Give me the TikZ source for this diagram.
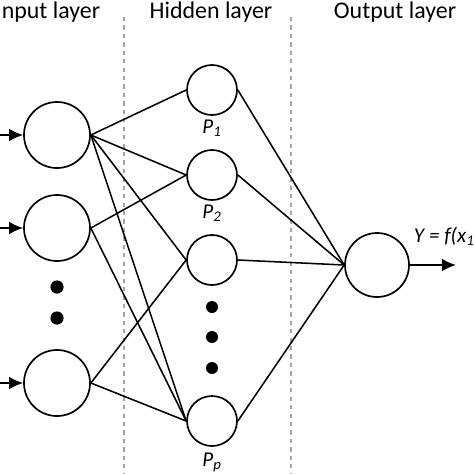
\documentclass[tikz,border=0pt]{standalone}
\usepackage{fontspec}
\setmainfont{Carlito}
\usetikzlibrary{arrows.meta}
\colorlet{neuron edge}{black}
\colorlet{layer line}{gray!70}
\tikzset{neuron/.style={circle, draw=neuron edge, line width=1.2pt, inner sep=0pt},
    bignode/.style={neuron, minimum size=1.65cm},
    smallnode/.style={neuron, minimum size=1.25cm},
    dotnode/.style={circle, fill=black, inner sep=0pt, minimum size=0.33cm},
    link/.style={line width=1.1pt},
    inarrow/.style={line width=1.2pt, -{Latex[length=10pt, width=9pt]}},
    title/.style={font=\fontsize{17}{20}\selectfont},
    plabel/.style={font=\fontsize{15}{18}\selectfont\itshape}}

\begin{document}
\begin{tikzpicture}[x=0.025cm, y=-0.025cm]
    \useasboundingbox (0,0) rectangle (474,474);
    % layer borders
    \draw[layer line, dashed, line width=0.8pt] (124,17) -- (124,474);
    \draw[layer line, dashed, line width=0.8pt] (291,17) -- (291,474);
    \node[title] (tin)  at (48,12)  {Input layer};
    \node[title] (thid) at (211,12) {Hidden layer};
    \node[title] (tout) at (395,12) {Output layer};
    % input layer
    \node[bignode] (in1) at (57,135) {};
    \node[bignode] (in2) at (57,228) {};
    \node[bignode] (in3) at (57,383) {};
    \node[dotnode] (id1) at (57,287) {};
    \node[dotnode] (id2) at (57,318) {};
    \coordinate (x1) at (0,135);
    \coordinate (x2) at (0,228);
    \coordinate (x3) at (0,383);
    \draw[inarrow] (x1) -- (in1.west);
    \draw[inarrow] (x2) -- (in2.west);
    \draw[inarrow] (x3) -- (in3.west);
    % hidden layer
    \node[smallnode] (h1) at (212,90)  {};
    \node[smallnode] (h2) at (212,175) {};
    \node[smallnode] (h3) at (212,260) {};
    \node[smallnode] (hp) at (212,421) {};
    \node[dotnode, minimum size=0.3cm] (hd1) at (212,307) {};
    \node[dotnode, minimum size=0.3cm] (hd2) at (212,337) {};
    \node[dotnode, minimum size=0.3cm] (hd3) at (212,368) {};
    \node[plabel] (p1) at (212,128) {P\textsubscript{1}};
    \node[plabel] (p2) at (212,213) {P\textsubscript{2}};
    \node[plabel] (pp) at (212,462) {P\textsubscript{p}};
    % output layer
    \node[bignode, minimum size=1.6cm] (out) at (377,265) {};
    \coordinate (y) at (456,265);
    \draw[inarrow] (out.east) -- (y);
    \node[plabel, anchor=west] (ylab) at (409,236) {Y = f(x\textsubscript{1}, \dots, x\textsubscript{n})};
    % connections
    \foreach \h in {h1,h2,h3,hp}
        \draw[link] (in1.east) -- (\h.west);
    \draw[link] (in2.east) -- (h2.west);
    \draw[link] (in2.east) -- (hp.west);
    \draw[link] (in3.east) -- (h3.west);
    \draw[link] (in3.east) -- (hp.west);
    \foreach \h in {h1,h2,h3,hp}
        \draw[link] (\h.east) -- (out.west);
\end{tikzpicture}
\end{document}
